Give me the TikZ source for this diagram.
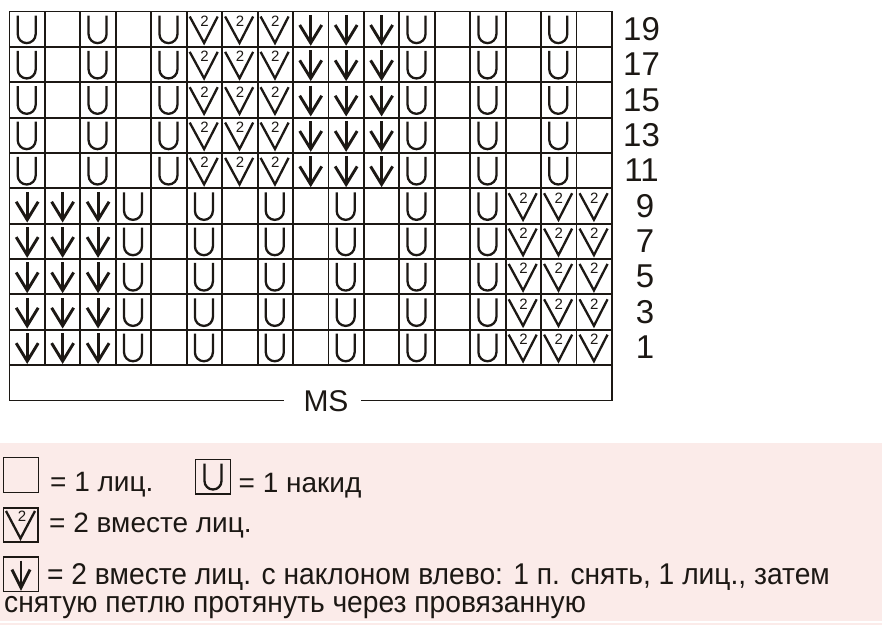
\documentclass[tikz,border=0pt]{standalone}
\usepackage{fontspec}
\setmainfont{Liberation Sans}
\definecolor{ink}{RGB}{28,24,20}
\definecolor{pinkbg}{RGB}{251,235,233}
\tikzset{
  gridline/.style={draw=ink, line width=1.9pt, line cap=rect},
  symline/.style={draw=ink, line width=2.3pt},
  arrline/.style={draw=ink, line width=2.9pt},
  numlabel/.style={text=ink, inner sep=0pt, font=\fontsize{33}{36}\selectfont},
  legtext/.style={text=ink, inner sep=0pt, anchor=base west, font=\fontsize{28}{30}\selectfont},
  condtext/.style={text=ink, inner sep=0pt, anchor=base west, font=\fontsize{30}{32}\selectfont},
  pics/yarnover/.style={code={
    \draw[symline] (8.2,4) -- (8.2,22.6) .. controls (8.2,27.57) and (12.23,31.6) .. (17.2,31.6)
      .. controls (22.17,31.6) and (26.2,27.57) .. (26.2,22.6) -- (26.2,4);}},
  pics/twotog/.style={code={
    \draw[symline, line join=miter] (3,5) -- (17.4,31.5) -- (31,5);
    \node[text=ink, inner sep=0pt, font=\fontsize{15}{15}\selectfont] at (17.8,9.8) {2};}},
  pics/sskarrow/.style={code={
    \draw[arrline] (17.7,3.5) -- (17.7,30);
    \draw[arrline, line join=miter] (6.7,13.5) -- (17.7,31.5) -- (28.7,13.5);}},
}
\begin{document}
\begin{tikzpicture}[x=1pt, y=-1pt]
\useasboundingbox (0,0) rectangle (886,625);
\fill[white] (0,0) rectangle (886,625);
% legend background
\fill[pinkbg] (0,443) rectangle (882,620.5);
\fill[pinkbg] (0,623) rectangle (882,625);

% grid
\foreach \c in {0,...,17} \draw[gridline] ({9.5+\c*35.44},11.5) -- ({9.5+\c*35.44},365);
\foreach \r in {0,...,10} \draw[gridline] (9.5,{11.5+\r*35.35}) -- (612,{11.5+\r*35.35});
\draw[gridline] (9.5,365) -- (9.5,400.5) -- (283,400.5);
\draw[gridline] (362,400.5) -- (612,400.5) -- (612,365);
\node[numlabel, font=\fontsize{30}{32}\selectfont] (ms) at (326,401.2) {MS};

% symbols, upper rows
\foreach \r in {0,...,4} {
  \foreach \c in {0,2,4,11,13,15} \pic at ({9.5+\c*35.44},{11.5+\r*35.35}) {yarnover};
  \foreach \c in {5,6,7} \pic at ({9.5+\c*35.44},{11.5+\r*35.35}) {twotog};
  \foreach \c in {8,9,10} \pic at ({9.5+\c*35.44},{11.5+\r*35.35}) {sskarrow};
}
% symbols, lower rows
\foreach \r in {5,...,9} {
  \foreach \c in {0,1,2} \pic at ({9.5+\c*35.44},{11.5+\r*35.35}) {sskarrow};
  \foreach \c in {3,5,7,9,11,13} \pic at ({9.5+\c*35.44},{11.5+\r*35.35}) {yarnover};
  \foreach \c in {14,15,16} \pic at ({9.5+\c*35.44},{11.5+\r*35.35}) {twotog};
}

% row numbers
\foreach \n/\r in {19/0,17/1,15/2,13/3,11/4}
  \node[numlabel] (row\n) at (641.5,{11.5+(\r+0.5)*35.35}) {\n};
\foreach \n/\r in {9/5,7/6,5/7,3/8,1/9}
  \node[numlabel] (row\n) at (645,{11.5+(\r+0.5)*35.35}) {\n};

% legend
\draw[gridline, line width=1.6pt] (3.5,457.5) rectangle (38.5,492.5);
\node[legtext] (knit) at (50,491.5) {= 1 лиц.};
\draw[gridline, line width=1.6pt] (195.5,459.5) rectangle (230.5,494);
\draw[symline] (204.5,463.5) -- (204.5,481) .. controls (204.5,485.7) and (208.3,489.5) .. (213,489.5)
  .. controls (217.7,489.5) and (221.5,485.7) .. (221.5,481) -- (221.5,463.5);
\node[legtext] (yo) at (238.5,492) {= 1 накид};

\draw[gridline, line width=1.6pt] (3.5,508) rectangle (38,542);
\draw[symline, line join=miter] (6,511) -- (20.5,538.5) -- (35,511);
\node[text=ink, inner sep=0pt, font=\fontsize{15}{15}\selectfont] at (22,516.5) {2};
\node[legtext] (k2tog) at (49,532) {= 2 вместе лиц.};

\draw[gridline, line width=1.6pt] (3.5,557) rectangle (38.5,591.5);
\draw[arrline] (21,560.5) -- (21,586);
\draw[arrline, line join=miter] (12,569.5) -- (21,587.5) -- (30,569.5);
\node[condtext] (ssk) at (47,584.5) {\scalebox{0.94}[1]{= 2 вместе лиц. с наклоном влево: 1 п. снять, 1 лиц., затем}};
\node[condtext] (ssk2) at (4,612.5) {\scalebox{0.94}[1]{снятую петлю протянуть через провязанную}};
\end{tikzpicture}
\end{document}
